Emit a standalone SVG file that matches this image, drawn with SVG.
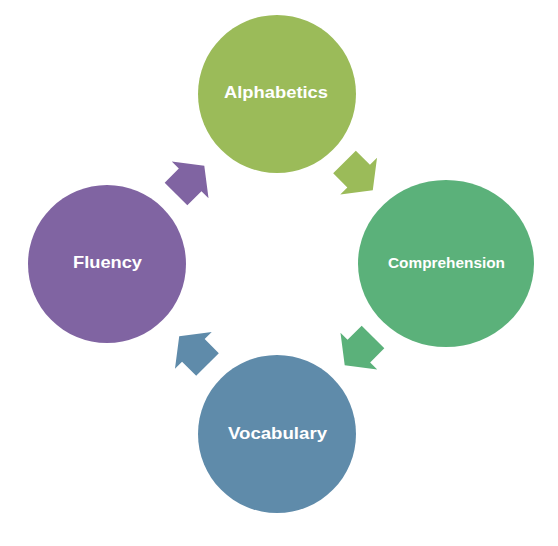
<svg xmlns="http://www.w3.org/2000/svg" width="558" height="546" viewBox="0 0 558 546">
<style>
.lbl{font-family:"Liberation Sans",Arial,sans-serif;font-weight:bold;fill:#ffffff;text-anchor:middle}
</style>
<defs>
<path id="arr" d="M0,-16 L20,-16 L20,-26 L40,0 L20,26 L20,16 L0,16 Z"/>
</defs>
<rect width="558" height="546" fill="#ffffff"/>
<g id="connectors">
<use href="#arr" fill="#9BBB59" transform="translate(344.5,162) rotate(45)"/>
<use href="#arr" fill="#5BB17A" transform="translate(373,337) rotate(135)"/>
<use href="#arr" fill="#5F8BAA" transform="translate(207.5,364.5) rotate(225)"/>
<use href="#arr" fill="#8064A2" transform="translate(176,194) rotate(-45)"/>
</g>
<g id="alphabetics">
<circle cx="277" cy="94" r="79" fill="#9BBB59"/>
<text class="lbl" x="276" y="98" font-size="17" textLength="104" lengthAdjust="spacingAndGlyphs">Alphabetics</text>
</g>
<g id="comprehension">
<ellipse cx="446" cy="263.5" rx="88" ry="83.5" fill="#5BB17A"/>
<text class="lbl" x="446.5" y="268" font-size="15" textLength="117" lengthAdjust="spacingAndGlyphs">Comprehension</text>
</g>
<g id="vocabulary">
<circle cx="277" cy="434" r="79" fill="#5F8BAA"/>
<text class="lbl" x="277.5" y="439" font-size="17" textLength="99" lengthAdjust="spacingAndGlyphs">Vocabulary</text>
</g>
<g id="fluency">
<circle cx="107" cy="264" r="79" fill="#8064A2"/>
<text class="lbl" x="107.5" y="268" font-size="17" textLength="69" lengthAdjust="spacingAndGlyphs">Fluency</text>
</g>
</svg>
